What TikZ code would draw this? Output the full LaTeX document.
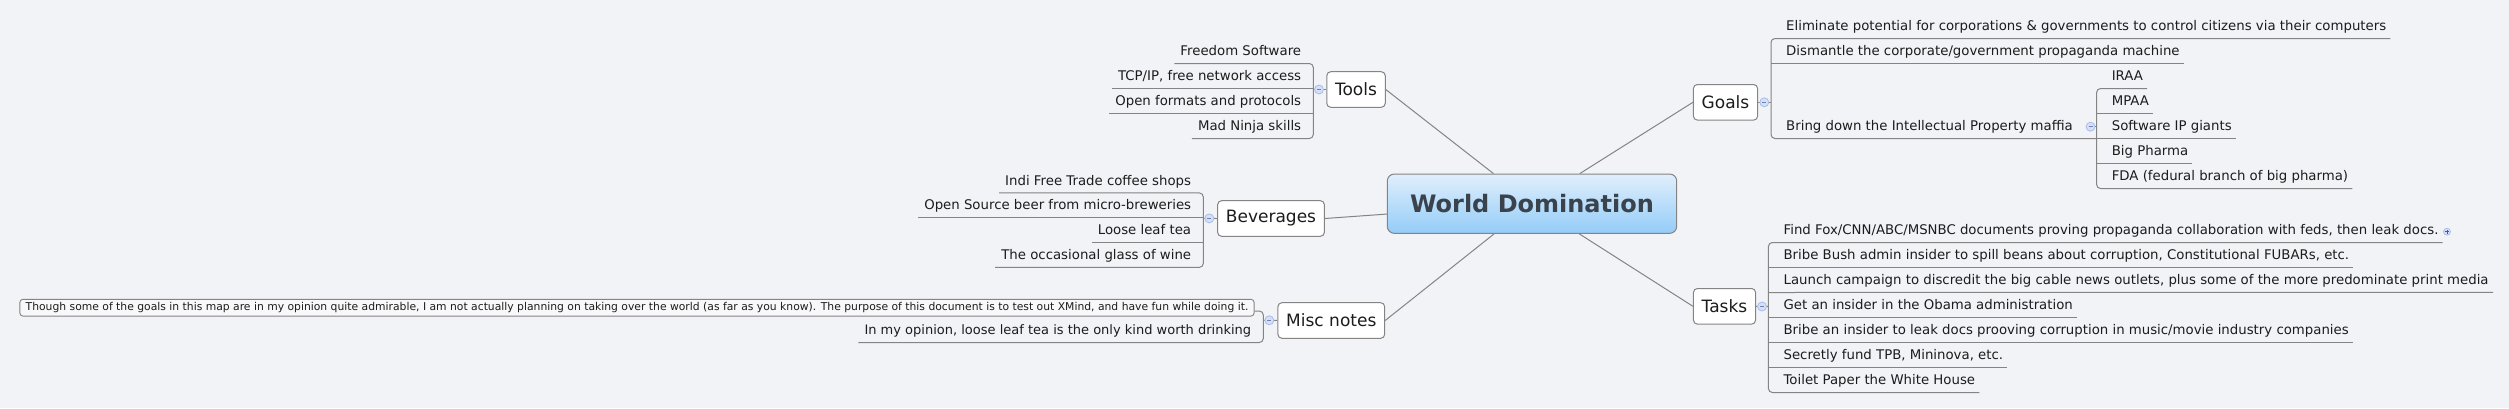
\documentclass[tikz,border=0pt]{standalone}
\usepackage{fontspec}
\setmainfont{DejaVu Sans}
\usetikzlibrary{calc}
\definecolor{bg}{RGB}{242,243,247}
\definecolor{edge}{RGB}{132,132,132}
\definecolor{ink}{RGB}{28,28,28}
\definecolor{topink}{RGB}{58,66,76}
\definecolor{ctop}{RGB}{224,239,252}
\definecolor{cbot}{RGB}{148,204,248}
\definecolor{btnfill}{RGB}{212,224,247}
\definecolor{btnline}{RGB}{168,188,230}
\definecolor{btnmark}{RGB}{110,130,182}
\definecolor{notefill}{RGB}{248,248,250}

\tikzset{
  central/.style={draw=edge, line width=1pt, rounded corners=7pt,
    top color=ctop, bottom color=cbot, minimum width=289.4pt, minimum height=59.3pt,
    font=\fontsize{24}{28}\selectfont\bfseries, text=topink},
  branch/.style={draw=edge, line width=1pt, rounded corners=4pt, fill=white,
    minimum height=35.6pt, inner xsep=8.3pt, font=\fontsize{17}{20}\selectfont, text=ink},
  leafR/.style={anchor=base west, inner xsep=4pt, inner ysep=0pt, text depth=7.5pt,
    font=\fontsize{13.3}{16}\selectfont, text=ink},
  leafL/.style={anchor=base east, inner xsep=6pt, inner ysep=0pt, text depth=7.5pt,
    font=\fontsize{13.3}{16}\selectfont, text=ink},
  notebox/.style={draw=edge, line width=0.9pt, rounded corners=3pt, fill=notefill,
    anchor=east, minimum height=16.7pt, inner xsep=5.8pt, inner ysep=0pt,
    font=\fontsize{10.78}{12}\selectfont, text=ink},
  link/.style={draw=edge, line width=1pt},
  rule/.style={draw=edge, line width=1pt},
  bracket/.style={rule, rounded corners=4pt},
  toggle/.style={circle, draw=btnline, fill=btnfill, minimum size=9pt, inner sep=0pt,
    line width=0.8pt, path picture={\draw[btnmark, line width=0.7pt]
      ([xshift=-2pt]path picture bounding box.center) -- ([xshift=2pt]path picture bounding box.center);}},
  expander/.style={circle, draw=btnline, fill=btnfill, minimum size=7pt, inner sep=0pt,
    line width=0.7pt, path picture={\draw[btnmark!70!black, line width=0.6pt]
      ([xshift=-1.8pt]path picture bounding box.center) -- ([xshift=1.8pt]path picture bounding box.center)
      ([yshift=-1.8pt]path picture bounding box.center) -- ([yshift=1.8pt]path picture bounding box.center);}},
}

\begin{document}
\begin{tikzpicture}[x=1pt, y=-1pt]
\useasboundingbox (0,0) rectangle (2509,408);
\fill[bg] (0,0) rectangle (2509,408);

% central topic and main branches
\node[central] (center) at (1532,203.7) {World Domination};
\node[branch] (tools) at (1356,89.5) {Tools};
\node[branch] (bev) at (1271,218.5) {Beverages};
\node[branch] (misc) at (1331.3,320.5) {Misc notes};
\node[branch] (goals) at (1725.5,102.3) {Goals};
\node[branch] (tasks) at (1724.5,306.3) {Tasks};

\draw[link] (center) -- (tools.east);
\draw[link] (center) -- (bev.east);
\draw[link] (center) -- (misc.east);
\draw[link] (center) -- (goals.west);
\draw[link] (center) -- (tasks.west);

% ---- Tools
\node[leafL] (t1) at (1307.3,55.8) {Freedom Software};
\node[leafL] (t2) at (1307.3,80.8) {TCP/IP, free network access};
\node[leafL] (t3) at (1307.3,105.8) {Open formats and protocols};
\node[leafL] (t4) at (1307.3,130.8) {Mad Ninja skills};
\draw[bracket] (t1.south west) -| ([xshift=6pt]t4.south east) -- (t4.south west);
\draw[rule] (t2.south west) -- ([xshift=6pt]t2.south east);
\draw[rule] (t3.south west) -- ([xshift=6pt]t3.south east);
\coordinate (tj) at (1313.3,89.5);
\draw[link] (tools.west) -- (tj);
\node[toggle] (ttog) at (1319,89.5) {};

% ---- Beverages
\node[leafL] (b1) at (1197.3,185.2) {Indi Free Trade coffee shops};
\node[leafL] (b2) at (1197.3,209.9) {Open Source beer from micro-breweries};
\node[leafL] (b3) at (1197.3,234.7) {Loose leaf tea};
\node[leafL] (b4) at (1197.3,259.7) {The occasional glass of wine};
\draw[bracket] (b1.south west) -| ([xshift=6pt]b4.south east) -- (b4.south west);
\draw[rule] (b2.south west) -- ([xshift=6pt]b2.south east);
\draw[rule] (b3.south west) -- ([xshift=6pt]b3.south east);
\coordinate (bj) at (1203.3,218.4);
\draw[link] (bev.west) -- (bj);
\node[toggle] (btog) at (1209.3,218.4) {};

% ---- Misc notes
\node[notebox] (n1) at (1254.5,307.7) {Though some of the goals in this map are in my opinion quite admirable, I am not actually planning on taking over the world (as far as you know). The purpose of this document is to test out XMind, and have fun while doing it.};
\node[leafL, font=\fontsize{13}{16}\selectfont] (m2) at (1257.3,334.8) {In my opinion, loose leaf tea is the only kind worth drinking};
\coordinate (nj) at (1254.5,311);
\draw[bracket] (nj) -| ([xshift=6pt]m2.south east) -- (m2.south west);
\coordinate (mj) at (1263.3,320.3);
\draw[link] (misc.west) -- (mj);
\node[toggle] (mtog) at (1269.3,320.3) {};

% ---- Goals
\node[leafR] (g1) at (1782,30.8) {Eliminate potential for corporations \& governments to control citizens via their computers};
\node[leafR] (g2) at (1782,55.8) {Dismantle the corporate/government propaganda machine};
\node[leafR] (g3) at (1782,130.8) {Bring down the Intellectual Property maffia};
\node[leafR] (s1) at (2107.6,80.8) {IRAA};
\node[leafR] (s2) at (2107.6,105.8) {MPAA};
\node[leafR] (s3) at (2107.6,130.8) {Software IP giants};
\node[leafR] (s4) at (2107.6,155.8) {Big Pharma};
\node[leafR] (s5) at (2107.6,180.8) {FDA (fedural branch of big pharma)};
\draw[bracket] (g1.south east) -| ([xshift=-11pt]g3.south west) -- ([xshift=-11pt]s3.south west);
\draw[rule] ([xshift=-11pt]g2.south west) -- (g2.south east);
\coordinate (gj) at (1771,102.3);
\draw[link] (goals.east) -- (gj);
\node[toggle] (gtog) at (1764.3,102.3) {};
\draw[bracket] (s1.south east) -| ([xshift=-11pt]s5.south west) -- (s5.south east);
\draw[rule] ([xshift=-11pt]s2.south west) -- (s2.south east);
\draw[rule] ([xshift=-11pt]s3.south west) -- (s3.south east);
\draw[rule] ([xshift=-11pt]s4.south west) -- (s4.south east);
\coordinate (sj) at (2096.6,126.7);
\node[toggle] (stog) at (2090.5,126.7) {};
\draw[link] (stog.east) -- (sj);

% ---- Tasks
\node[leafR] (k1) at (1779.4,234.8) {Find Fox/CNN/ABC/MSNBC documents proving propaganda collaboration with feds, then leak docs.};
\node[leafR] (k2) at (1779.4,259.8) {Bribe Bush admin insider to spill beans about corruption, Constitutional FUBARs, etc.};
\begin{scope}
  \clip (1700,260) rectangle (2491,300);
  \node[leafR] (k3) at (1779.4,284.8) {Launch campaign to discredit the big cable news outlets, plus some of the more predominate print media};
\end{scope}
\node[leafR] (k4) at (1779.4,309.8) {Get an insider in the Obama administration};
\node[leafR] (k5) at (1779.4,334.8) {Bribe an insider to leak docs prooving corruption in music/movie industry companies};
\node[leafR] (k6) at (1779.4,359.8) {Secretly fund TPB, Mininova, etc.};
\node[leafR] (k7) at (1779.4,384.8) {Toilet Paper the White House};
\draw[bracket] (k1.south east) -| ([xshift=-11pt]k7.south west) -- (k7.south east);
\draw[rule] ([xshift=-11pt]k2.south west) -- (k2.south east);
\coordinate (k3end) at (2493,292.3);
\draw[rule] ([xshift=-11pt]k3.south west) -- (k3end);
\draw[rule] ([xshift=-11pt]k4.south west) -- (k4.south east);
\draw[rule] ([xshift=-11pt]k5.south west) -- (k5.south east);
\draw[rule] ([xshift=-11pt]k6.south west) -- (k6.south east);
\coordinate (kj) at (1768.4,306.5);
\draw[link] (tasks.east) -- (kj);
\node[toggle] (ktog) at (1762,306.5) {};
\node[expander] (kplus) at (2447,231.7) {};
\end{tikzpicture}
\end{document}
